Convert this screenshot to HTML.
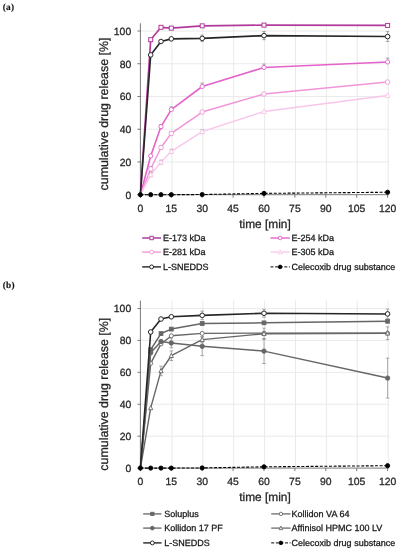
<!DOCTYPE html>
<html><head><meta charset="utf-8"><title>Figure</title>
<style>
html,body{margin:0;padding:0;background:#fff;}
body{width:400px;height:550px;overflow:hidden;}
svg{display:block;text-rendering:geometricPrecision;filter:blur(0.3px);font-family:'Liberation Sans', Arial, sans-serif;}
text{stroke:#222;stroke-width:0.28px;}
.pl{stroke-width:0.15px;letter-spacing:0.3px;font-family:'Liberation Serif','DejaVu Serif',serif;font-weight:bold;font-size:9.3px;fill:#111;}
</style></head><body>
<svg width="400" height="550" viewBox="0 0 400 550">
<rect width="400" height="550" fill="#fff"/>
<text class="pl" x="2.7" y="10.3">(a)</text>
<text class="pl" x="2.7" y="288.2">(b)</text>
<line x1="140.4" x2="388.8" y1="161.96" y2="161.96" stroke="#e4e4e4" stroke-width="0.8"/>
<line x1="140.4" x2="388.8" y1="129.22" y2="129.22" stroke="#e4e4e4" stroke-width="0.8"/>
<line x1="140.4" x2="388.8" y1="96.48" y2="96.48" stroke="#e4e4e4" stroke-width="0.8"/>
<line x1="140.4" x2="388.8" y1="63.74" y2="63.74" stroke="#e4e4e4" stroke-width="0.8"/>
<line x1="140.4" x2="388.8" y1="31.00" y2="31.00" stroke="#e4e4e4" stroke-width="0.8"/>
<line x1="171.90" x2="171.90" y1="23.3" y2="194.7" stroke="#e4e4e4" stroke-width="0.8"/>
<line x1="202.80" x2="202.80" y1="23.3" y2="194.7" stroke="#e4e4e4" stroke-width="0.8"/>
<line x1="233.70" x2="233.70" y1="23.3" y2="194.7" stroke="#e4e4e4" stroke-width="0.8"/>
<line x1="264.60" x2="264.60" y1="23.3" y2="194.7" stroke="#e4e4e4" stroke-width="0.8"/>
<line x1="295.50" x2="295.50" y1="23.3" y2="194.7" stroke="#e4e4e4" stroke-width="0.8"/>
<line x1="326.40" x2="326.40" y1="23.3" y2="194.7" stroke="#e4e4e4" stroke-width="0.8"/>
<line x1="357.30" x2="357.30" y1="23.3" y2="194.7" stroke="#e4e4e4" stroke-width="0.8"/>
<line x1="388.20" x2="388.20" y1="23.3" y2="194.7" stroke="#e4e4e4" stroke-width="0.8"/>
<line x1="140.4" x2="140.4" y1="23.3" y2="197.7" stroke="#6a6a6a" stroke-width="0.9"/>
<line x1="137.4" x2="388.6" y1="194.7" y2="194.7" stroke="#6a6a6a" stroke-width="0.9"/>
<line x1="137.4" x2="140.4" y1="194.70" y2="194.70" stroke="#6a6a6a" stroke-width="0.9"/>
<text x="131.2" y="198.60" text-anchor="end" font-size="10.4" fill="#2b2b2b">0</text>
<line x1="137.4" x2="140.4" y1="161.96" y2="161.96" stroke="#6a6a6a" stroke-width="0.9"/>
<text x="131.2" y="165.86" text-anchor="end" font-size="10.4" fill="#2b2b2b">20</text>
<line x1="137.4" x2="140.4" y1="129.22" y2="129.22" stroke="#6a6a6a" stroke-width="0.9"/>
<text x="131.2" y="133.12" text-anchor="end" font-size="10.4" fill="#2b2b2b">40</text>
<line x1="137.4" x2="140.4" y1="96.48" y2="96.48" stroke="#6a6a6a" stroke-width="0.9"/>
<text x="131.2" y="100.38" text-anchor="end" font-size="10.4" fill="#2b2b2b">60</text>
<line x1="137.4" x2="140.4" y1="63.74" y2="63.74" stroke="#6a6a6a" stroke-width="0.9"/>
<text x="131.2" y="67.64" text-anchor="end" font-size="10.4" fill="#2b2b2b">80</text>
<line x1="137.4" x2="140.4" y1="31.00" y2="31.00" stroke="#6a6a6a" stroke-width="0.9"/>
<text x="131.2" y="34.90" text-anchor="end" font-size="10.4" fill="#2b2b2b">100</text>
<line x1="140.40" x2="140.40" y1="194.7" y2="197.7" stroke="#6a6a6a" stroke-width="0.9"/>
<text x="140.40" y="211.60" text-anchor="middle" font-size="10.4" fill="#2b2b2b">0</text>
<line x1="171.30" x2="171.30" y1="194.7" y2="197.7" stroke="#6a6a6a" stroke-width="0.9"/>
<text x="171.30" y="211.60" text-anchor="middle" font-size="10.4" fill="#2b2b2b">15</text>
<line x1="202.20" x2="202.20" y1="194.7" y2="197.7" stroke="#6a6a6a" stroke-width="0.9"/>
<text x="202.20" y="211.60" text-anchor="middle" font-size="10.4" fill="#2b2b2b">30</text>
<line x1="233.10" x2="233.10" y1="194.7" y2="197.7" stroke="#6a6a6a" stroke-width="0.9"/>
<text x="233.10" y="211.60" text-anchor="middle" font-size="10.4" fill="#2b2b2b">45</text>
<line x1="264.00" x2="264.00" y1="194.7" y2="197.7" stroke="#6a6a6a" stroke-width="0.9"/>
<text x="264.00" y="211.60" text-anchor="middle" font-size="10.4" fill="#2b2b2b">60</text>
<line x1="294.90" x2="294.90" y1="194.7" y2="197.7" stroke="#6a6a6a" stroke-width="0.9"/>
<text x="294.90" y="211.60" text-anchor="middle" font-size="10.4" fill="#2b2b2b">75</text>
<line x1="325.80" x2="325.80" y1="194.7" y2="197.7" stroke="#6a6a6a" stroke-width="0.9"/>
<text x="325.80" y="211.60" text-anchor="middle" font-size="10.4" fill="#2b2b2b">90</text>
<line x1="356.70" x2="356.70" y1="194.7" y2="197.7" stroke="#6a6a6a" stroke-width="0.9"/>
<text x="356.70" y="211.60" text-anchor="middle" font-size="10.4" fill="#2b2b2b">105</text>
<line x1="387.60" x2="387.60" y1="194.7" y2="197.7" stroke="#6a6a6a" stroke-width="0.9"/>
<text x="387.60" y="211.60" text-anchor="middle" font-size="10.4" fill="#2b2b2b">120</text>
<text x="265" y="227.90" text-anchor="middle" font-size="11.9" fill="#262626">time [min]</text>
<text transform="translate(108.2,114) rotate(-90)" text-anchor="middle" font-size="12.4" fill="#262626">cumulative drug release [%]</text>
<polyline points="140.40,194.70 150.70,39.68 161.00,27.32 171.30,28.14 202.20,25.84 264.00,25.11 387.60,25.43" fill="none" stroke="#b23a9c" stroke-width="1.7" stroke-linejoin="round"/>
<rect x="148.70" y="37.68" width="4.0" height="4.0" fill="#fff" stroke="#b23a9c" stroke-width="1.0"/>
<rect x="159.00" y="25.32" width="4.0" height="4.0" fill="#fff" stroke="#b23a9c" stroke-width="1.0"/>
<rect x="169.30" y="26.14" width="4.0" height="4.0" fill="#fff" stroke="#b23a9c" stroke-width="1.0"/>
<rect x="200.20" y="23.84" width="4.0" height="4.0" fill="#fff" stroke="#b23a9c" stroke-width="1.0"/>
<rect x="262.00" y="23.11" width="4.0" height="4.0" fill="#fff" stroke="#b23a9c" stroke-width="1.0"/>
<rect x="385.60" y="23.43" width="4.0" height="4.0" fill="#fff" stroke="#b23a9c" stroke-width="1.0"/>
<polyline points="140.40,194.70 150.70,155.90 161.00,126.60 171.30,109.58 202.20,86.49 264.00,67.51 387.60,61.94" fill="none" stroke="#e462ca" stroke-width="1.6" stroke-linejoin="round"/>
<path d="M161.00 124.47V128.73M159.20 124.47h3.6M159.20 128.73h3.6" stroke="#8a8a8a" stroke-width="0.7" fill="none"/>
<path d="M171.30 106.79V110.72M169.50 106.79h3.6M169.50 110.72h3.6" stroke="#8a8a8a" stroke-width="0.7" fill="none"/>
<path d="M202.20 83.06V86.99M200.40 83.06h3.6M200.40 86.99h3.6" stroke="#8a8a8a" stroke-width="0.7" fill="none"/>
<path d="M264.00 64.07V68.00M262.20 64.07h3.6M262.20 68.00h3.6" stroke="#8a8a8a" stroke-width="0.7" fill="none"/>
<path d="M387.60 58.17V62.76M385.80 58.17h3.6M385.80 62.76h3.6" stroke="#8a8a8a" stroke-width="0.7" fill="none"/>
<circle cx="150.70" cy="155.90" r="2.1" fill="#fff" stroke="#e462ca" stroke-width="0.9"/>
<circle cx="161.00" cy="126.60" r="2.1" fill="#fff" stroke="#e462ca" stroke-width="0.9"/>
<circle cx="171.30" cy="109.58" r="2.1" fill="#fff" stroke="#e462ca" stroke-width="0.9"/>
<circle cx="202.20" cy="86.49" r="2.1" fill="#fff" stroke="#e462ca" stroke-width="0.9"/>
<circle cx="264.00" cy="67.51" r="2.1" fill="#fff" stroke="#e462ca" stroke-width="0.9"/>
<circle cx="387.60" cy="61.94" r="2.1" fill="#fff" stroke="#e462ca" stroke-width="0.9"/>
<polyline points="140.40,194.70 150.70,169.00 161.00,147.55 171.30,133.48 202.20,112.03 264.00,94.02 387.60,82.07" fill="none" stroke="#f095d8" stroke-width="1.5" stroke-linejoin="round"/>
<path d="M150.70 166.54V171.45M148.90 166.54h3.6M148.90 171.45h3.6" stroke="#8a8a8a" stroke-width="0.7" fill="none"/>
<path d="M161.00 145.59V149.52M159.20 145.59h3.6M159.20 149.52h3.6" stroke="#8a8a8a" stroke-width="0.7" fill="none"/>
<path d="M171.30 131.51V135.44M169.50 131.51h3.6M169.50 135.44h3.6" stroke="#8a8a8a" stroke-width="0.7" fill="none"/>
<circle cx="150.70" cy="169.00" r="2.3" fill="#fff" stroke="#f095d8" stroke-width="0.9"/>
<circle cx="161.00" cy="147.55" r="2.3" fill="#fff" stroke="#f095d8" stroke-width="0.9"/>
<circle cx="171.30" cy="133.48" r="2.3" fill="#fff" stroke="#f095d8" stroke-width="0.9"/>
<circle cx="202.20" cy="112.03" r="2.3" fill="#fff" stroke="#f095d8" stroke-width="0.9"/>
<circle cx="264.00" cy="94.02" r="2.3" fill="#fff" stroke="#f095d8" stroke-width="0.9"/>
<circle cx="387.60" cy="82.07" r="2.3" fill="#fff" stroke="#f095d8" stroke-width="0.9"/>
<polyline points="140.40,194.70 150.70,174.73 161.00,162.12 171.30,151.32 202.20,131.68 264.00,111.54 387.60,95.50" fill="none" stroke="#f9c6e9" stroke-width="1.4" stroke-linejoin="round"/>
<path d="M150.70 172.76V176.69M148.90 172.76h3.6M148.90 176.69h3.6" stroke="#8a8a8a" stroke-width="0.7" fill="none"/>
<path d="M161.00 160.16V164.09M159.20 160.16h3.6M159.20 164.09h3.6" stroke="#8a8a8a" stroke-width="0.7" fill="none"/>
<path d="M171.30 149.36V153.28M169.50 149.36h3.6M169.50 153.28h3.6" stroke="#8a8a8a" stroke-width="0.7" fill="none"/>
<path d="M202.20 129.71V133.64M200.40 129.71h3.6M200.40 133.64h3.6" stroke="#8a8a8a" stroke-width="0.7" fill="none"/>
<path d="M150.70 172.08L153.00 176.68H148.40Z" fill="#fff" stroke="#f9c6e9" stroke-width="0.9"/>
<path d="M161.00 159.48L163.30 164.08H158.70Z" fill="#fff" stroke="#f9c6e9" stroke-width="0.9"/>
<path d="M171.30 148.67L173.60 153.27H169.00Z" fill="#fff" stroke="#f9c6e9" stroke-width="0.9"/>
<path d="M202.20 129.03L204.50 133.63H199.90Z" fill="#fff" stroke="#f9c6e9" stroke-width="0.9"/>
<path d="M264.00 108.90L266.30 113.50H261.70Z" fill="#fff" stroke="#f9c6e9" stroke-width="0.9"/>
<path d="M387.60 92.85L389.90 97.45H385.30Z" fill="#fff" stroke="#f9c6e9" stroke-width="0.9"/>
<polyline points="140.40,194.70 150.70,54.90 161.00,41.48 171.30,38.86 202.20,38.37 264.00,35.58 387.60,36.57" fill="none" stroke="#262626" stroke-width="1.6" stroke-linejoin="round"/>
<path d="M202.20 35.09V41.64M200.40 35.09h3.6M200.40 41.64h3.6" stroke="#8a8a8a" stroke-width="0.7" fill="none"/>
<path d="M264.00 31.49V39.68M262.20 31.49h3.6M262.20 39.68h3.6" stroke="#8a8a8a" stroke-width="0.7" fill="none"/>
<path d="M387.60 31.65V41.48M385.80 31.65h3.6M385.80 41.48h3.6" stroke="#8a8a8a" stroke-width="0.7" fill="none"/>
<circle cx="150.70" cy="54.90" r="2.3" fill="#fff" stroke="#262626" stroke-width="1.0"/>
<circle cx="161.00" cy="41.48" r="2.3" fill="#fff" stroke="#262626" stroke-width="1.0"/>
<circle cx="171.30" cy="38.86" r="2.3" fill="#fff" stroke="#262626" stroke-width="1.0"/>
<circle cx="202.20" cy="38.37" r="2.3" fill="#fff" stroke="#262626" stroke-width="1.0"/>
<circle cx="264.00" cy="35.58" r="2.3" fill="#fff" stroke="#262626" stroke-width="1.0"/>
<circle cx="387.60" cy="36.57" r="2.3" fill="#fff" stroke="#262626" stroke-width="1.0"/>
<polyline points="140.40,194.70 150.70,194.70 161.00,194.70 171.30,194.70 202.20,194.54 264.00,193.39 387.60,192.24" fill="none" stroke="#000" stroke-width="1.1" stroke-linejoin="round" stroke-dasharray="3 1.6"/>
<circle cx="140.40" cy="194.70" r="2.1" fill="#000" stroke="#000" stroke-width="0.9"/>
<circle cx="150.70" cy="194.70" r="2.1" fill="#000" stroke="#000" stroke-width="0.9"/>
<circle cx="161.00" cy="194.70" r="2.1" fill="#000" stroke="#000" stroke-width="0.9"/>
<circle cx="171.30" cy="194.70" r="2.1" fill="#000" stroke="#000" stroke-width="0.9"/>
<circle cx="202.20" cy="194.54" r="2.1" fill="#000" stroke="#000" stroke-width="0.9"/>
<circle cx="264.00" cy="193.39" r="2.1" fill="#000" stroke="#000" stroke-width="0.9"/>
<circle cx="387.60" cy="192.24" r="2.1" fill="#000" stroke="#000" stroke-width="0.9"/>
<line x1="142.2" x2="161" y1="238.0" y2="238.0" stroke="#b23a9c" stroke-width="1.50"/>
<rect x="149.90" y="236.30" width="3.4" height="3.4" fill="#fff" stroke="#b23a9c" stroke-width="1.0"/>
<text x="162.90" y="241.20" font-size="9" fill="#151515">E-173 kDa</text>
<line x1="270.5" x2="289.8" y1="238.0" y2="238.0" stroke="#e462ca" stroke-width="1.41"/>
<circle cx="280.15" cy="238.00" r="1.785" fill="#fff" stroke="#e462ca" stroke-width="0.9"/>
<text x="291.60" y="241.20" font-size="9" fill="#151515">E-254 kDa</text>
<line x1="142.2" x2="161" y1="252.1" y2="252.1" stroke="#f095d8" stroke-width="1.32"/>
<circle cx="151.60" cy="252.10" r="1.9549999999999998" fill="#fff" stroke="#f095d8" stroke-width="0.9"/>
<text x="162.90" y="255.30" font-size="9" fill="#151515">E-281 kDa</text>
<line x1="270.5" x2="289.8" y1="252.1" y2="252.1" stroke="#f9c6e9" stroke-width="1.23"/>
<path d="M280.15 249.85L282.10 253.76H278.19Z" fill="#fff" stroke="#f9c6e9" stroke-width="0.9"/>
<text x="291.60" y="255.30" font-size="9" fill="#151515">E-305 kDa</text>
<line x1="142.2" x2="161" y1="266.9" y2="266.9" stroke="#262626" stroke-width="1.41"/>
<circle cx="151.60" cy="266.90" r="1.9549999999999998" fill="#fff" stroke="#262626" stroke-width="1.0"/>
<text x="162.90" y="270.10" font-size="9" fill="#151515">L-SNEDDS</text>
<line x1="270.5" x2="289.8" y1="266.9" y2="266.9" stroke="#000" stroke-width="0.97" stroke-dasharray="3 1.6"/>
<circle cx="280.15" cy="266.90" r="1.785" fill="#000" stroke="#000" stroke-width="0.9"/>
<text x="291.60" y="270.10" font-size="9" fill="#151515">Celecoxib drug substance</text>
<line x1="140.4" x2="388.8" y1="436.18" y2="436.18" stroke="#e4e4e4" stroke-width="0.8"/>
<line x1="140.4" x2="388.8" y1="404.26" y2="404.26" stroke="#e4e4e4" stroke-width="0.8"/>
<line x1="140.4" x2="388.8" y1="372.34" y2="372.34" stroke="#e4e4e4" stroke-width="0.8"/>
<line x1="140.4" x2="388.8" y1="340.42" y2="340.42" stroke="#e4e4e4" stroke-width="0.8"/>
<line x1="140.4" x2="388.8" y1="308.50" y2="308.50" stroke="#e4e4e4" stroke-width="0.8"/>
<line x1="171.90" x2="171.90" y1="300.6" y2="468.1" stroke="#e4e4e4" stroke-width="0.8"/>
<line x1="202.80" x2="202.80" y1="300.6" y2="468.1" stroke="#e4e4e4" stroke-width="0.8"/>
<line x1="233.70" x2="233.70" y1="300.6" y2="468.1" stroke="#e4e4e4" stroke-width="0.8"/>
<line x1="264.60" x2="264.60" y1="300.6" y2="468.1" stroke="#e4e4e4" stroke-width="0.8"/>
<line x1="295.50" x2="295.50" y1="300.6" y2="468.1" stroke="#e4e4e4" stroke-width="0.8"/>
<line x1="326.40" x2="326.40" y1="300.6" y2="468.1" stroke="#e4e4e4" stroke-width="0.8"/>
<line x1="357.30" x2="357.30" y1="300.6" y2="468.1" stroke="#e4e4e4" stroke-width="0.8"/>
<line x1="388.20" x2="388.20" y1="300.6" y2="468.1" stroke="#e4e4e4" stroke-width="0.8"/>
<line x1="140.4" x2="140.4" y1="300.6" y2="471.1" stroke="#6a6a6a" stroke-width="0.9"/>
<line x1="137.4" x2="388.6" y1="468.1" y2="468.1" stroke="#6a6a6a" stroke-width="0.9"/>
<line x1="137.4" x2="140.4" y1="468.10" y2="468.10" stroke="#6a6a6a" stroke-width="0.9"/>
<text x="131.2" y="472.00" text-anchor="end" font-size="10.4" fill="#2b2b2b">0</text>
<line x1="137.4" x2="140.4" y1="436.18" y2="436.18" stroke="#6a6a6a" stroke-width="0.9"/>
<text x="131.2" y="440.08" text-anchor="end" font-size="10.4" fill="#2b2b2b">20</text>
<line x1="137.4" x2="140.4" y1="404.26" y2="404.26" stroke="#6a6a6a" stroke-width="0.9"/>
<text x="131.2" y="408.16" text-anchor="end" font-size="10.4" fill="#2b2b2b">40</text>
<line x1="137.4" x2="140.4" y1="372.34" y2="372.34" stroke="#6a6a6a" stroke-width="0.9"/>
<text x="131.2" y="376.24" text-anchor="end" font-size="10.4" fill="#2b2b2b">60</text>
<line x1="137.4" x2="140.4" y1="340.42" y2="340.42" stroke="#6a6a6a" stroke-width="0.9"/>
<text x="131.2" y="344.32" text-anchor="end" font-size="10.4" fill="#2b2b2b">80</text>
<line x1="137.4" x2="140.4" y1="308.50" y2="308.50" stroke="#6a6a6a" stroke-width="0.9"/>
<text x="131.2" y="312.40" text-anchor="end" font-size="10.4" fill="#2b2b2b">100</text>
<line x1="140.40" x2="140.40" y1="468.1" y2="471.1" stroke="#6a6a6a" stroke-width="0.9"/>
<text x="140.40" y="484.60" text-anchor="middle" font-size="10.4" fill="#2b2b2b">0</text>
<line x1="171.30" x2="171.30" y1="468.1" y2="471.1" stroke="#6a6a6a" stroke-width="0.9"/>
<text x="171.30" y="484.60" text-anchor="middle" font-size="10.4" fill="#2b2b2b">15</text>
<line x1="202.20" x2="202.20" y1="468.1" y2="471.1" stroke="#6a6a6a" stroke-width="0.9"/>
<text x="202.20" y="484.60" text-anchor="middle" font-size="10.4" fill="#2b2b2b">30</text>
<line x1="233.10" x2="233.10" y1="468.1" y2="471.1" stroke="#6a6a6a" stroke-width="0.9"/>
<text x="233.10" y="484.60" text-anchor="middle" font-size="10.4" fill="#2b2b2b">45</text>
<line x1="264.00" x2="264.00" y1="468.1" y2="471.1" stroke="#6a6a6a" stroke-width="0.9"/>
<text x="264.00" y="484.60" text-anchor="middle" font-size="10.4" fill="#2b2b2b">60</text>
<line x1="294.90" x2="294.90" y1="468.1" y2="471.1" stroke="#6a6a6a" stroke-width="0.9"/>
<text x="294.90" y="484.60" text-anchor="middle" font-size="10.4" fill="#2b2b2b">75</text>
<line x1="325.80" x2="325.80" y1="468.1" y2="471.1" stroke="#6a6a6a" stroke-width="0.9"/>
<text x="325.80" y="484.60" text-anchor="middle" font-size="10.4" fill="#2b2b2b">90</text>
<line x1="356.70" x2="356.70" y1="468.1" y2="471.1" stroke="#6a6a6a" stroke-width="0.9"/>
<text x="356.70" y="484.60" text-anchor="middle" font-size="10.4" fill="#2b2b2b">105</text>
<line x1="387.60" x2="387.60" y1="468.1" y2="471.1" stroke="#6a6a6a" stroke-width="0.9"/>
<text x="387.60" y="484.60" text-anchor="middle" font-size="10.4" fill="#2b2b2b">120</text>
<text x="265" y="500.80" text-anchor="middle" font-size="11.9" fill="#262626">time [min]</text>
<text transform="translate(108.2,394.2) rotate(-90)" text-anchor="middle" font-size="12.4" fill="#262626">cumulative drug release [%]</text>
<polyline points="140.40,468.10 150.70,349.68 161.00,333.56 171.30,329.09 202.20,323.50 264.00,322.86 387.60,321.27" fill="none" stroke="#666" stroke-width="1.5" stroke-linejoin="round"/>
<rect x="148.80" y="347.78" width="3.8" height="3.8" fill="#666" stroke="#666" stroke-width="0.9"/>
<rect x="159.10" y="331.66" width="3.8" height="3.8" fill="#666" stroke="#666" stroke-width="0.9"/>
<rect x="169.40" y="327.19" width="3.8" height="3.8" fill="#666" stroke="#666" stroke-width="0.9"/>
<rect x="200.30" y="321.60" width="3.8" height="3.8" fill="#666" stroke="#666" stroke-width="0.9"/>
<rect x="262.10" y="320.96" width="3.8" height="3.8" fill="#666" stroke="#666" stroke-width="0.9"/>
<rect x="385.70" y="319.37" width="3.8" height="3.8" fill="#666" stroke="#666" stroke-width="0.9"/>
<polyline points="140.40,468.10 150.70,363.40 161.00,343.93 171.30,335.79 202.20,333.40 264.00,333.08 387.60,333.24" fill="none" stroke="#666" stroke-width="1.4" stroke-linejoin="round"/>
<path d="M387.60 326.85V339.62M385.80 326.85h3.6M385.80 339.62h3.6" stroke="#8a8a8a" stroke-width="0.7" fill="none"/>
<circle cx="150.70" cy="363.40" r="2.0" fill="#fff" stroke="#666" stroke-width="0.9"/>
<circle cx="161.00" cy="343.93" r="2.0" fill="#fff" stroke="#666" stroke-width="0.9"/>
<circle cx="171.30" cy="335.79" r="2.0" fill="#fff" stroke="#666" stroke-width="0.9"/>
<circle cx="202.20" cy="333.40" r="2.0" fill="#fff" stroke="#666" stroke-width="0.9"/>
<circle cx="264.00" cy="333.08" r="2.0" fill="#fff" stroke="#666" stroke-width="0.9"/>
<circle cx="387.60" cy="333.24" r="2.0" fill="#fff" stroke="#666" stroke-width="0.9"/>
<polyline points="140.40,468.10 150.70,352.71 161.00,341.54 171.30,342.97 202.20,346.33 264.00,351.11 387.60,378.09" fill="none" stroke="#666" stroke-width="1.5" stroke-linejoin="round"/>
<path d="M171.30 338.19V347.76M169.50 338.19h3.6M169.50 347.76h3.6" stroke="#8a8a8a" stroke-width="0.7" fill="none"/>
<path d="M202.20 337.07V355.58M200.40 337.07h3.6M200.40 355.58h3.6" stroke="#8a8a8a" stroke-width="0.7" fill="none"/>
<path d="M264.00 338.66V363.56M262.20 338.66h3.6M262.20 363.56h3.6" stroke="#8a8a8a" stroke-width="0.7" fill="none"/>
<path d="M387.60 358.14V398.04M385.80 358.14h3.6M385.80 398.04h3.6" stroke="#8a8a8a" stroke-width="0.7" fill="none"/>
<circle cx="150.70" cy="352.71" r="2.2" fill="#666" stroke="#666" stroke-width="0.9"/>
<circle cx="161.00" cy="341.54" r="2.2" fill="#666" stroke="#666" stroke-width="0.9"/>
<circle cx="171.30" cy="342.97" r="2.2" fill="#666" stroke="#666" stroke-width="0.9"/>
<circle cx="202.20" cy="346.33" r="2.2" fill="#666" stroke="#666" stroke-width="0.9"/>
<circle cx="264.00" cy="351.11" r="2.2" fill="#666" stroke="#666" stroke-width="0.9"/>
<circle cx="387.60" cy="378.09" r="2.2" fill="#666" stroke="#666" stroke-width="0.9"/>
<polyline points="140.40,468.10 150.70,407.93 161.00,370.90 171.30,355.74 202.20,339.62 264.00,333.72 387.60,333.24" fill="none" stroke="#666" stroke-width="1.4" stroke-linejoin="round"/>
<path d="M161.00 366.12V375.69M159.20 366.12h3.6M159.20 375.69h3.6" stroke="#8a8a8a" stroke-width="0.7" fill="none"/>
<path d="M171.30 350.95V360.53M169.50 350.95h3.6M169.50 360.53h3.6" stroke="#8a8a8a" stroke-width="0.7" fill="none"/>
<path d="M202.20 336.43V342.81M200.40 336.43h3.6M200.40 342.81h3.6" stroke="#8a8a8a" stroke-width="0.7" fill="none"/>
<path d="M264.00 328.13V339.30M262.20 328.13h3.6M262.20 339.30h3.6" stroke="#8a8a8a" stroke-width="0.7" fill="none"/>
<path d="M150.70 405.52L152.80 409.72H148.60Z" fill="#fff" stroke="#666" stroke-width="0.9"/>
<path d="M161.00 368.49L163.10 372.69H158.90Z" fill="#fff" stroke="#666" stroke-width="0.9"/>
<path d="M171.30 353.33L173.40 357.53H169.20Z" fill="#fff" stroke="#666" stroke-width="0.9"/>
<path d="M202.20 337.21L204.30 341.41H200.10Z" fill="#fff" stroke="#666" stroke-width="0.9"/>
<path d="M264.00 331.30L266.10 335.50H261.90Z" fill="#fff" stroke="#666" stroke-width="0.9"/>
<path d="M387.60 330.82L389.70 335.02H385.50Z" fill="#fff" stroke="#666" stroke-width="0.9"/>
<polyline points="140.40,468.10 150.70,331.96 161.00,319.03 171.30,316.80 202.20,315.36 264.00,313.29 387.60,313.93" fill="none" stroke="#262626" stroke-width="1.6" stroke-linejoin="round"/>
<path d="M202.20 311.05V319.67M200.40 311.05h3.6M200.40 319.67h3.6" stroke="#8a8a8a" stroke-width="0.7" fill="none"/>
<path d="M264.00 309.30V317.28M262.20 309.30h3.6M262.20 317.28h3.6" stroke="#8a8a8a" stroke-width="0.7" fill="none"/>
<path d="M387.60 309.14V318.71M385.80 309.14h3.6M385.80 318.71h3.6" stroke="#8a8a8a" stroke-width="0.7" fill="none"/>
<circle cx="150.70" cy="331.96" r="2.3" fill="#fff" stroke="#262626" stroke-width="1.0"/>
<circle cx="161.00" cy="319.03" r="2.3" fill="#fff" stroke="#262626" stroke-width="1.0"/>
<circle cx="171.30" cy="316.80" r="2.3" fill="#fff" stroke="#262626" stroke-width="1.0"/>
<circle cx="202.20" cy="315.36" r="2.3" fill="#fff" stroke="#262626" stroke-width="1.0"/>
<circle cx="264.00" cy="313.29" r="2.3" fill="#fff" stroke="#262626" stroke-width="1.0"/>
<circle cx="387.60" cy="313.93" r="2.3" fill="#fff" stroke="#262626" stroke-width="1.0"/>
<polyline points="140.40,468.10 150.70,468.10 161.00,468.10 171.30,468.10 202.20,467.94 264.00,466.82 387.60,465.71" fill="none" stroke="#000" stroke-width="1.1" stroke-linejoin="round" stroke-dasharray="3 1.6"/>
<circle cx="140.40" cy="468.10" r="2.1" fill="#000" stroke="#000" stroke-width="0.9"/>
<circle cx="150.70" cy="468.10" r="2.1" fill="#000" stroke="#000" stroke-width="0.9"/>
<circle cx="161.00" cy="468.10" r="2.1" fill="#000" stroke="#000" stroke-width="0.9"/>
<circle cx="171.30" cy="468.10" r="2.1" fill="#000" stroke="#000" stroke-width="0.9"/>
<circle cx="202.20" cy="467.94" r="2.1" fill="#000" stroke="#000" stroke-width="0.9"/>
<circle cx="264.00" cy="466.82" r="2.1" fill="#000" stroke="#000" stroke-width="0.9"/>
<circle cx="387.60" cy="465.71" r="2.1" fill="#000" stroke="#000" stroke-width="0.9"/>
<line x1="143.2" x2="161.5" y1="513.9" y2="513.9" stroke="#666" stroke-width="1.32"/>
<rect x="150.73" y="512.28" width="3.23" height="3.23" fill="#666" stroke="#666" stroke-width="0.9"/>
<text x="164.30" y="517.10" font-size="9" fill="#151515">Soluplus</text>
<line x1="271.2" x2="290.6" y1="513.9" y2="513.9" stroke="#666" stroke-width="1.23"/>
<circle cx="280.90" cy="513.90" r="1.7" fill="#fff" stroke="#666" stroke-width="0.9"/>
<text x="291.60" y="517.10" font-size="9" fill="#151515">Kollidon VA 64</text>
<line x1="143.2" x2="161.5" y1="528.1" y2="528.1" stroke="#666" stroke-width="1.32"/>
<circle cx="152.35" cy="528.10" r="1.87" fill="#666" stroke="#666" stroke-width="0.9"/>
<text x="164.30" y="531.30" font-size="9" fill="#151515">Kollidon 17 PF</text>
<line x1="271.2" x2="290.6" y1="528.1" y2="528.1" stroke="#666" stroke-width="1.23"/>
<path d="M280.90 526.05L282.69 529.62H279.11Z" fill="#fff" stroke="#666" stroke-width="0.9"/>
<text x="291.60" y="531.30" font-size="9" fill="#151515">Affinisol HPMC 100 LV</text>
<line x1="143.2" x2="161.5" y1="542.9" y2="542.9" stroke="#262626" stroke-width="1.41"/>
<circle cx="152.35" cy="542.90" r="1.9549999999999998" fill="#fff" stroke="#262626" stroke-width="1.0"/>
<text x="164.30" y="546.10" font-size="9" fill="#151515">L-SNEDDS</text>
<line x1="271.2" x2="290.6" y1="542.9" y2="542.9" stroke="#000" stroke-width="0.97" stroke-dasharray="3 1.6"/>
<circle cx="280.90" cy="542.90" r="1.785" fill="#000" stroke="#000" stroke-width="0.9"/>
<text x="291.60" y="546.10" font-size="9" fill="#151515">Celecoxib drug substance</text>
</svg>
</body></html>
